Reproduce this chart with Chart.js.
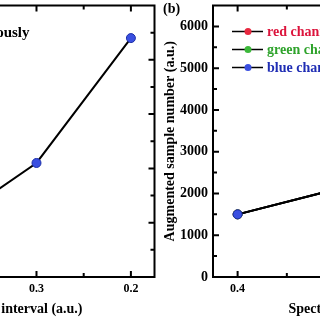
<!DOCTYPE html>
<html>
<head>
<meta charset="utf-8">
<script src="https://cdn.jsdelivr.net/npm/chart.js@4.4.1/dist/chart.umd.min.js"></script>
<style>
    html, body { margin: 0; padding: 0; background: #fff; }
    #wrap { position: relative; width: 320px; height: 320px; overflow: hidden; }
    #boxA { position: absolute; left: -164px; top: 0; width: 324px; height: 320px; }
    #boxB { position: absolute; left: 160px; top: 0; width: 344px; height: 320px; }
</style>
</head>
<body>
<div id="wrap">
    <div id="boxA"><canvas id="chartA"></canvas></div>
    <div id="boxB"><canvas id="chartB"></canvas></div>
</div>
<script>
// panel (a): augmented simultaneously
const intervalsA = [0.4, 0.3, 0.2];
const countsA = [900, 2100, 4400];

// panel (b): per channel
const intervalsB = [0.4, 0.3];
const redCounts = [1500, 2100];
const greenCounts = [1500, 2100];
const blueCounts = [1500, 2100];

const xMajor = [0.5, 0.4, 0.3, 0.2, 0.1];
const xMinor = [0.45, 0.35, 0.25, 0.15];
const yMajorA = [0, 1000, 2000, 3000, 4000, 5000];
const yMinorA = [500, 1500, 2500, 3500, 4500];
const yMajorB = [0, 1000, 2000, 3000, 4000, 5000, 6000];
const yMinorB = [500, 1500, 2500, 3500, 4500, 5500, 6500];

const FONT = "'Liberation Serif', 'Times New Roman', serif";

const colors = {
    red: '#e8283f',
    redText: '#dc143c',
    green: '#3cb83a',
    greenText: '#2fa32c',
    blue: '#3a4fe0',
    blueText: '#1f2db4',
    blueEdge: '#1c2fa8',
};

// frame box with inward ticks on all four sides
const framePlugin = {
    id: 'frame',
    beforeDatasetsDraw(chart) {
        const { ctx, chartArea: a } = chart;
        const sx = chart.scales.x;
        const sy = chart.scales.y;
        const yMajor = chart.options.plugins.frame.yMajor;
        const yMinor = chart.options.plugins.frame.yMinor;
        ctx.save();
        ctx.strokeStyle = '#000';
        ctx.lineWidth = 2;
        ctx.strokeRect(a.left, a.top, a.right - a.left, a.bottom - a.top);
        ctx.beginPath();
        xMajor.concat(xMinor).forEach((v) => {
            const p = sx.getPixelForValue(v);
            if (p <= a.left + 1 || p >= a.right - 1) return;
            const len = xMajor.includes(v) ? 6 : 4;
            ctx.moveTo(p, a.bottom);
            ctx.lineTo(p, a.bottom - len);
            ctx.moveTo(p, a.top);
            ctx.lineTo(p, a.top + len);
        });
        yMajor.concat(yMinor).forEach((v) => {
            const p = sy.getPixelForValue(v);
            if (p <= a.top + 1 || p >= a.bottom - 1) return;
            const len = yMajor.includes(v) ? 6 : 4;
            ctx.moveTo(a.left, p);
            ctx.lineTo(a.left + len, p);
            ctx.moveTo(a.right, p);
            ctx.lineTo(a.right - len, p);
        });
        ctx.stroke();
        ctx.restore();
    },
};

const notesPlugin = {
    id: 'notes',
    afterDraw(chart, args, opts) {
        const { ctx, chartArea: a } = chart;
        ctx.save();
        ctx.textBaseline = 'middle';
        (opts.texts || []).forEach((t) => {
            ctx.font = `bold ${t.size}px ${FONT}`;
            ctx.fillStyle = t.color || '#000';
            ctx.textAlign = t.align || 'left';
            const px = t.fromRight ? a.right + t.dx : a.left + t.dx;
            ctx.fillText(t.text, px, t.y);
        });
        (opts.legend || []).forEach((item, i) => {
            const yy = a.top + 26 + i * 18;
            const x0 = a.left + 19;
            ctx.strokeStyle = '#000';
            ctx.lineWidth = 1.5;
            ctx.beginPath();
            ctx.moveTo(x0, yy);
            ctx.lineTo(x0 + 31, yy);
            ctx.stroke();
            ctx.beginPath();
            ctx.arc(x0 + 16, yy, 3.5, 0, Math.PI * 2);
            ctx.fillStyle = item.color;
            ctx.fill();
            ctx.font = `bold 14px ${FONT}`;
            ctx.fillStyle = item.textColor;
            ctx.textAlign = 'left';
            ctx.fillText(item.label, x0 + 35, yy + 1);
        });
        ctx.restore();
    },
};

function xScale(min, max) {
    return {
        type: 'linear',
        reverse: true,
        min,
        max,
        grid: { display: false, drawTicks: false },
        border: { display: false },
        afterBuildTicks: (s) => {
            s.ticks = xMajor.filter((v) => v >= min && v <= max).map((v) => ({ value: v }));
        },
        afterFit: (s) => {
            s.height = 43;
            s.paddingLeft = 0;
            s.paddingRight = 0;
        },
        ticks: {
            padding: 5,
            color: '#000',
            font: { family: FONT, weight: 'bold', size: 12 },
            callback: (v) => Number(v).toFixed(1),
        },
        title: {
            display: true,
            text: 'Spectral interval (a.u.)',
            color: '#000',
            font: { family: FONT, weight: 'bold', size: 14 },
            padding: { top: 2, bottom: 2 },
        },
    };
}

function yScale(max, major, width) {
    return {
        type: 'linear',
        min: 0,
        max,
        grid: { display: false, drawTicks: false },
        border: { display: false },
        afterBuildTicks: (s) => { s.ticks = major.map((v) => ({ value: v })); },
        afterFit: (s) => {
            s.width = width;
            s.paddingTop = 0;
            s.paddingBottom = 0;
        },
        ticks: {
            padding: 5,
            color: '#000',
            font: { family: FONT, weight: 'bold', size: 14 },
            callback: (v) => String(v),
        },
        title: {
            display: true,
            text: 'Augmented sample number (a.u.)',
            color: '#000',
            font: { family: FONT, weight: 'bold', size: 14 },
            padding: { top: 2, bottom: 2 },
        },
    };
}

function series(label, xs, ys, fill, edge, order) {
    return {
        label,
        data: xs.map((x, i) => ({ x, y: ys[i] })),
        borderColor: '#000',
        borderWidth: 2,
        tension: 0,
        pointRadius: 4.5,
        pointBackgroundColor: fill,
        pointBorderColor: edge,
        pointBorderWidth: 1,
        order,
    };
}

function baseOptions() {
    return {
        responsive: true,
        maintainAspectRatio: false,
        animation: false,
        devicePixelRatio: 1,
        layout: { padding: { top: 5, right: 5, left: 0, bottom: 0 } },
    };
}

new Chart(document.getElementById('chartA'), {
    type: 'line',
    data: {
        datasets: [series('simultaneously', intervalsA, countsA, colors.blue, colors.blueEdge, 0)],
    },
    options: {
        ...baseOptions(),
        scales: {
            x: xScale(0.175, 0.47),
            y: yScale(5000, yMajorA, 40),
        },
        plugins: {
            legend: { display: false },
            tooltip: { enabled: false },
            frame: { yMajor: yMajorA, yMinor: yMinorA },
            notes: {
                texts: [
                    { text: 'Augmented simultaneously', size: 15, y: 33, dx: -125, fromRight: true, align: 'right' },
                ],
            },
        },
    },
    plugins: [framePlugin, notesPlugin],
});

new Chart(document.getElementById('chartB'), {
    type: 'line',
    data: {
        datasets: [
            series('red channel', intervalsB, redCounts, colors.red, '#a01828', 2),
            series('green channel', intervalsB, greenCounts, colors.green, '#237a22', 1),
            series('blue channel', intervalsB, blueCounts, colors.blue, colors.blueEdge, 0),
        ],
    },
    options: {
        ...baseOptions(),
        scales: {
            x: xScale(0.135, 0.425),
            y: yScale(6500, yMajorB, 53),
        },
        plugins: {
            legend: { display: false },
            tooltip: { enabled: false },
            frame: { yMajor: yMajorB, yMinor: yMinorB },
            notes: {
                texts: [
                    { text: '(b)', size: 14, y: 9, dx: -50, align: 'left' },
                ],
                legend: [
                    { label: 'red channel', color: colors.red, textColor: colors.redText },
                    { label: 'green channel', color: colors.green, textColor: colors.greenText },
                    { label: 'blue channel', color: colors.blue, textColor: colors.blueText },
                ],
            },
        },
    },
    plugins: [framePlugin, notesPlugin],
});
</script>
</body>
</html>
